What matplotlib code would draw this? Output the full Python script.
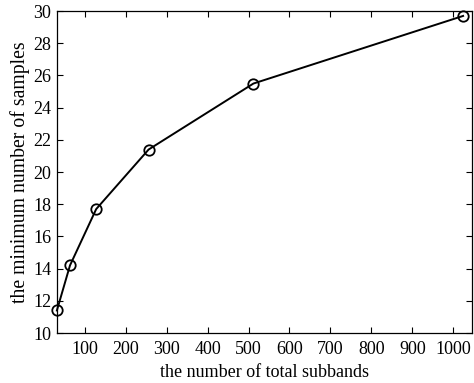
import matplotlib
matplotlib.use("Agg")
import matplotlib.pyplot as plt

subbands = [32, 64, 128, 256, 512, 1024]
min_samples = [11.4, 14.2, 17.7, 21.4, 25.5, 29.7]
xticks = [100, 200, 300, 400, 500, 600, 700, 800, 900, 1000]
yticks = [10, 12, 14, 16, 18, 20, 22, 24, 26, 28, 30]

plt.rcParams['font.family'] = ['Liberation Serif', 'DejaVu Serif']
fig = plt.figure(figsize=(4.74, 3.83), dpi=100)
ax = fig.add_axes([0.120, 0.1305, 0.876, 0.8405])
ax.plot(subbands, min_samples, color='black', lw=1.4, marker='o', ms=7.5,
        mfc='none', mec='black', mew=1.3, clip_on=False)
ax.set_xlim(32, 1046)
ax.set_ylim(10, 30)
ax.set_xticks(xticks)
ax.set_yticks(yticks)
ax.tick_params(axis='x', pad=6)
ax.tick_params(axis='y', pad=4)
ax.tick_params(direction='in', top=True, right=True, labelsize=13, length=4, width=0.8)
for s in ax.spines.values():
    s.set_linewidth(0.9)
ax.set_xlabel('the number of total subbands', fontsize=13, labelpad=4)
ax.set_ylabel('the minimum number of samples', fontsize=14.2, labelpad=2)
fig.savefig('out.png', dpi=100)
